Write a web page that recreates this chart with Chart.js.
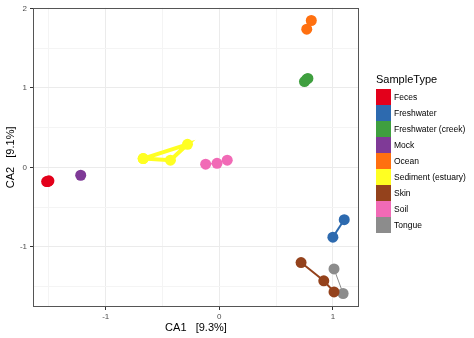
<!DOCTYPE html>
<html>
<head>
<meta charset="utf-8">
<script src="https://cdn.jsdelivr.net/npm/chart.js@4.4.0/dist/chart.umd.min.js"></script>
<style>
html,body{margin:0;padding:0;background:#fff;}
canvas{display:block;}
</style>
</head>
<body>
<canvas id="c" width="474" height="338"></canvas>
<script>
// ---- data ----
const categories = ['Feces','Freshwater','Freshwater (creek)','Mock','Ocean','Sediment (estuary)','Skin','Soil','Tongue'];
const colors = ['#E3001B','#2D6AAF','#3F9F3F','#7F3A97','#FF7010','#FFFF22','#94421C','#F16AB6','#8C8C8C'];

const fecesX = [-1.52, -1.50, -1.51];
const fecesY = [-0.18, -0.17, -0.18];
const freshwaterX = [1.10, 1.00];
const freshwaterY = [-0.66, -0.88];
const creekX = [0.75, 0.77, 0.78];
const creekY = [1.08, 1.11, 1.12];
const mockX = [-1.22];
const mockY = [-0.10];
const oceanX = [0.77, 0.81];
const oceanY = [1.74, 1.85];
const sedimentX = [-0.67, -0.28, -0.43, -0.67];
const sedimentY = [0.11, 0.29, 0.09, 0.11];
const skinX = [0.72, 0.92, 1.01];
const skinY = [-1.20, -1.43, -1.57];
const soilX = [-0.12, -0.02, 0.07];
const soilY = [0.04, 0.05, 0.09];
const tongueX = [1.01, 1.09];
const tongueY = [-1.28, -1.59];

const xTicks = [-1.5, -1, -0.5, 0, 0.5, 1];
const yTicks = [-1.5, -1, -0.5, 0, 0.5, 1, 1.5, 2];
const xLabel = 'CA1   [9.3%]';
const yLabel = 'CA2   [9.1%]';
const legendTitle = 'SampleType';

const seriesX = [fecesX, freshwaterX, creekX, mockX, oceanX, sedimentX, skinX, soilX, tongueX];
const seriesY = [fecesY, freshwaterY, creekY, mockY, oceanY, sedimentY, skinY, soilY, tongueY];
const lineWidths = [1, 2, 1, 1, 1, 4, 2, 1, 1];

// ---- build datasets ----
const datasets = [];
categories.forEach((name, i) => {
  const pts = seriesX[i].map((x, j) => ({x: x, y: seriesY[i][j]}));
  datasets.push({
    label: name + ' path', data: pts, showLine: true, pointRadius: 0,
    borderColor: colors[i], backgroundColor: colors[i], borderWidth: lineWidths[i], order: 2
  });
  datasets.push({
    label: name, data: pts, showLine: false, pointRadius: 5.5, pointHoverRadius: 5.5,
    pointBorderWidth: 0, borderWidth: 0, pointBackgroundColor: colors[i], backgroundColor: colors[i], order: 1
  });
});

const isMajor = v => Math.abs(v - Math.round(v)) < 1e-9;

const panelPlugin = {
  id: 'panel',
  afterDraw(chart) {
    const {ctx, chartArea: a} = chart;
    ctx.save();
    ctx.strokeStyle = '#555555';
    ctx.lineWidth = 1;
    ctx.strokeRect(Math.round(a.left) + 0.5, Math.round(a.top) + 0.5, Math.round(a.right - a.left) - 1, Math.round(a.bottom - a.top) - 1);
    // legend
    const lx = 376, ly0 = 89, kh = 16, kw = 15;
    ctx.fillStyle = '#000';
    ctx.font = '11px "Liberation Sans", Arial, sans-serif';
    ctx.textBaseline = 'middle';
    ctx.textAlign = 'left';
    ctx.fillText(legendTitle, lx, 80);
    ctx.font = '8.5px "Liberation Sans", Arial, sans-serif';
    categories.forEach((name, i) => {
      ctx.fillStyle = colors[i];
      ctx.fillRect(lx, ly0 + i * kh, kw, kh);
      ctx.fillStyle = '#000';
      ctx.fillText(name, lx + kw + 3, ly0 + i * kh + kh / 2 + 0.5);
    });
    ctx.restore();
  }
};

const gridColor = c => isMajor(c.tick.value) ? '#ebebeb' : '#f4f4f4';
const tickColor = c => isMajor(c.tick.value) ? '#333333' : 'rgba(0,0,0,0)';

new Chart(document.getElementById('c'), {
  type: 'scatter',
  data: {datasets},
  options: {
    responsive: false,
    animation: false,
    devicePixelRatio: 1,
    layout: {padding: {top: 5, right: 115, left: 0, bottom: 0}},
    plugins: {legend: {display: false}, tooltip: {enabled: false}},
    scales: {
      x: {
        type: 'linear', min: -1.64, max: 1.23,
        afterBuildTicks: s => { s.ticks = xTicks.map(v => ({value: v})); },
        afterFit: s => { s.height = 31; },
        grid: {color: gridColor, lineWidth: 1, tickLength: 3, tickColor: tickColor, drawTicks: true},
        border: {display: false},
        ticks: {
          autoSkip: false, maxRotation: 0, padding: 2, color: '#4d4d4d',
          font: {family: '"Liberation Sans", Arial, sans-serif', size: 8},
          callback: v => isMajor(v) ? String(v) : ''
        },
        title: {display: true, text: xLabel, color: '#000', padding: {top: 0, bottom: 3},
          font: {family: '"Liberation Sans", Arial, sans-serif', size: 11}}
      },
      y: {
        type: 'linear', min: -1.76, max: 2.01,
        afterBuildTicks: s => { s.ticks = yTicks.map(v => ({value: v})); },
        afterFit: s => { s.width = 33; },
        grid: {color: gridColor, lineWidth: 1, tickLength: 3, tickColor: tickColor, drawTicks: true},
        border: {display: false},
        ticks: {
          autoSkip: false, padding: 3, color: '#4d4d4d',
          font: {family: '"Liberation Sans", Arial, sans-serif', size: 8},
          callback: v => isMajor(v) ? String(v) : ''
        },
        title: {display: true, text: yLabel, color: '#000', padding: {top: 4, bottom: 0},
          font: {family: '"Liberation Sans", Arial, sans-serif', size: 11}}
      }
    }
  },
  plugins: [panelPlugin]
});
</script>
</body>
</html>
